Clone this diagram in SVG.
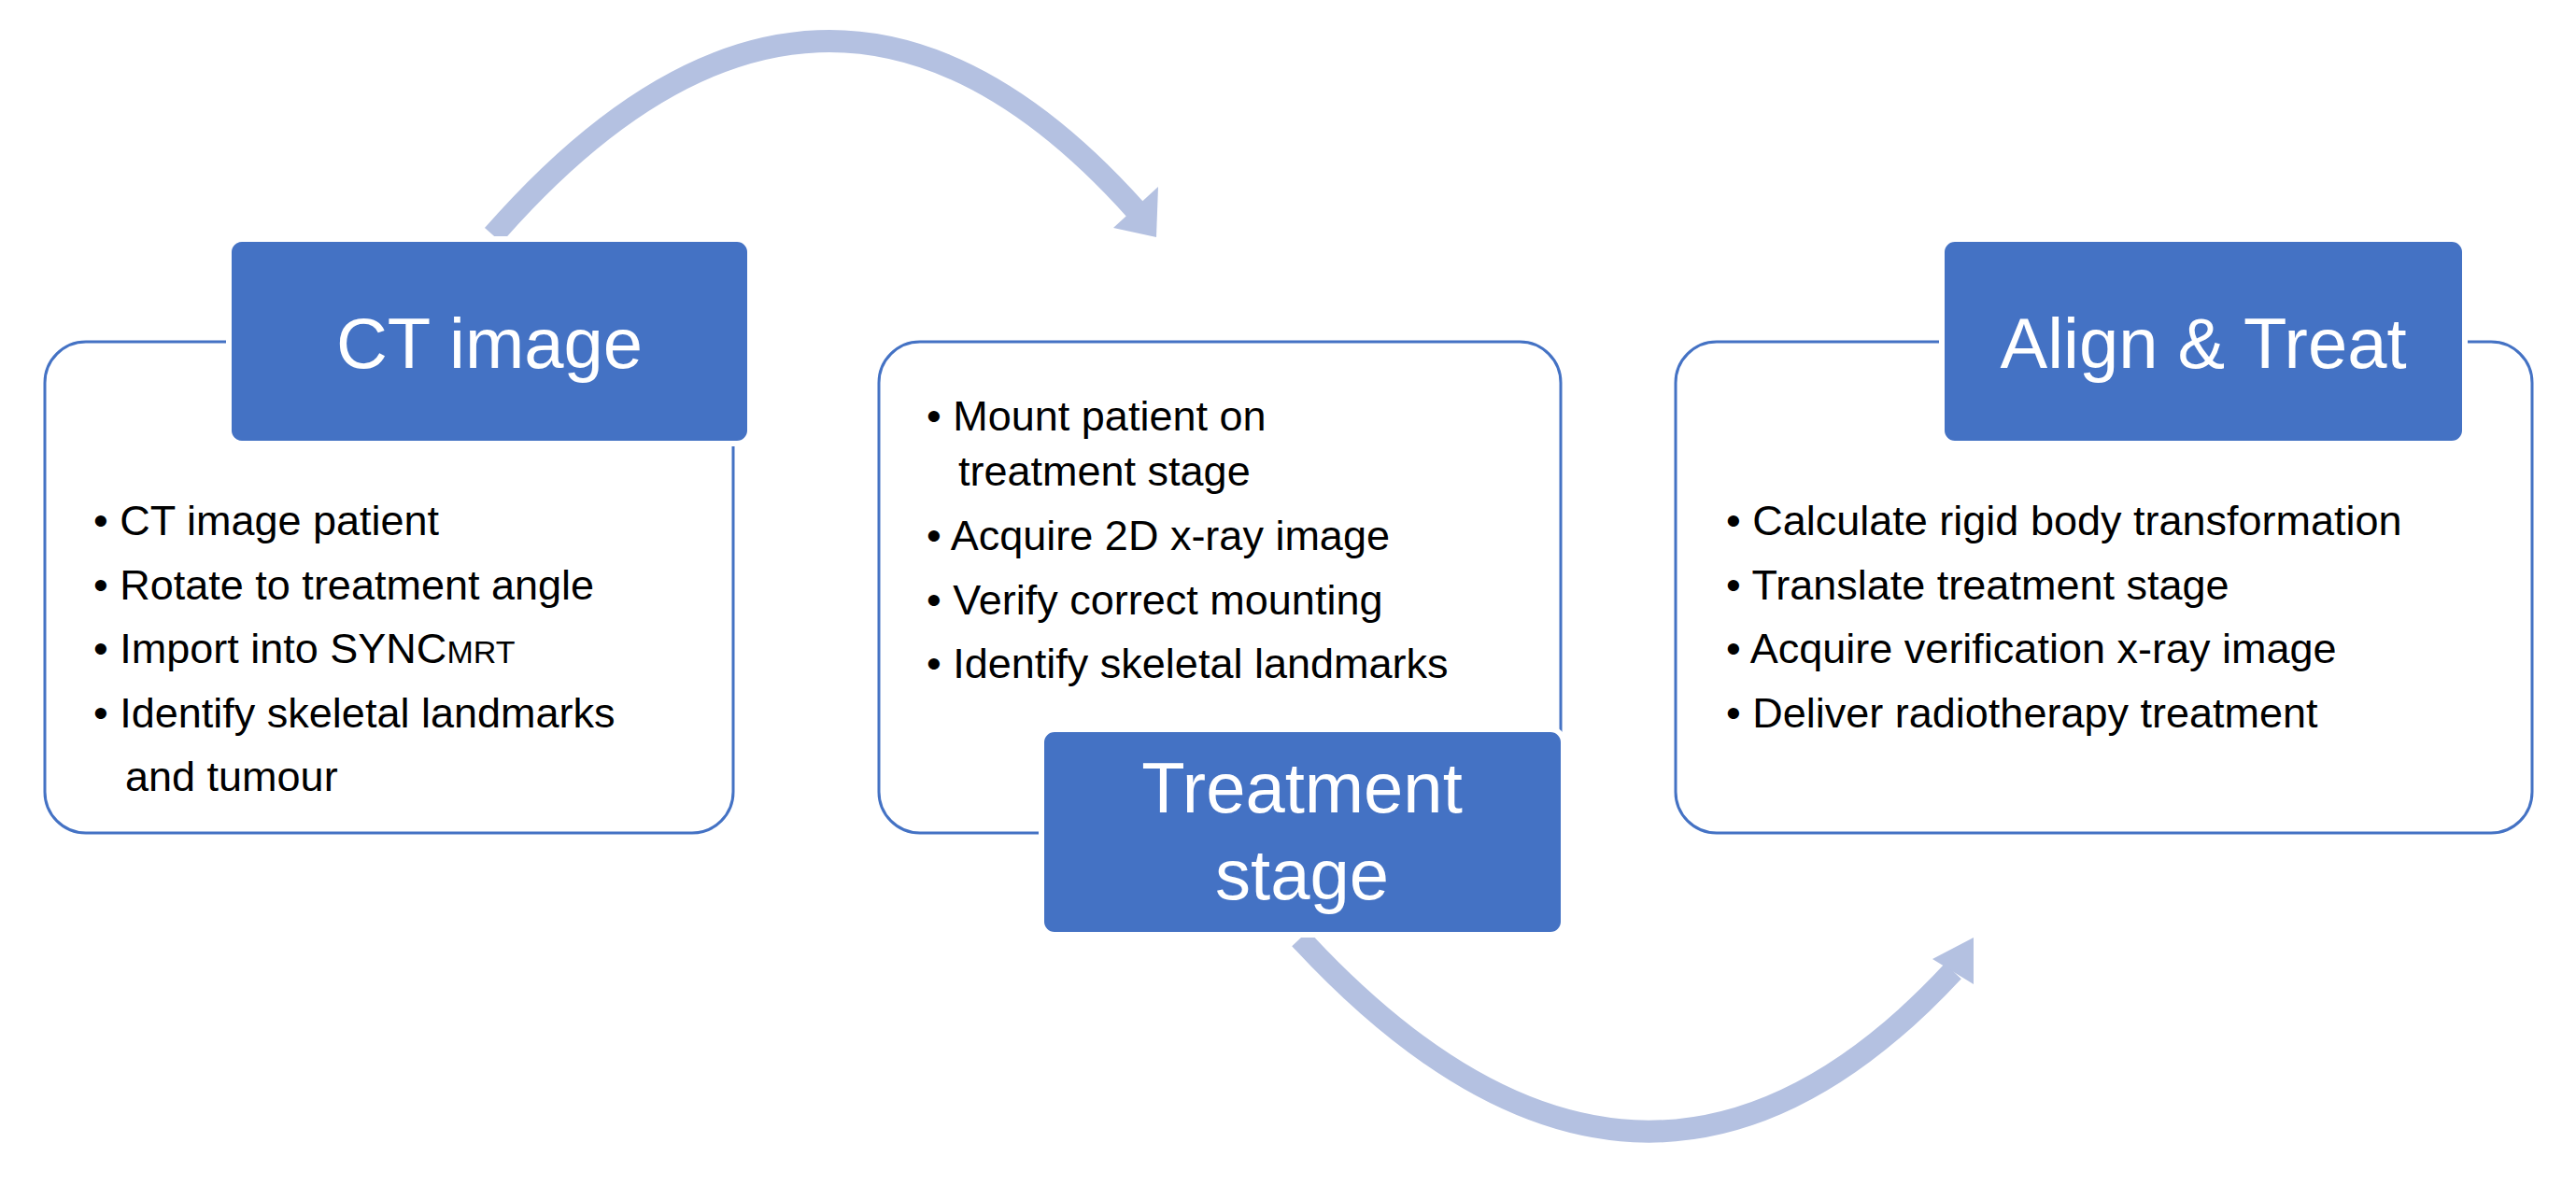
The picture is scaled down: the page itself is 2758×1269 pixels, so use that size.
<svg xmlns="http://www.w3.org/2000/svg" width="2758" height="1269" viewBox="0 0 2758 1269">
<style>
.box{fill:#fff;stroke:#4472C4;stroke-width:3}
.hdr{fill:#4472C4;stroke:#fff;stroke-width:6}
.title{font-family:"Liberation Sans",Arial,sans-serif;font-size:76px;fill:#fff;text-anchor:middle}
.txt{font-family:"Liberation Sans",Arial,sans-serif;font-size:45px;fill:#000}
.arc{fill:none;stroke:#B4C1E1;stroke-width:24}
.head{fill:#B4C1E1}
</style>
<rect width="2758" height="1269" fill="#fff"/>
<g id="connectors">
<path class="arc" d="M528,252 Q880,-150 1216,225"/>
<polygon class="head" points="1240,200 1192,244 1238,254"/>
<path class="arc" d="M1392,1005 Q1757,1400 2091,1040"/>
<polygon class="head" points="2069,1027 2113,1054 2113,1004"/>
</g>
<g id="ct-image">
<rect class="box" x="48" y="366" width="737" height="526" rx="44"/>
<rect class="hdr" x="245" y="256" width="558" height="219" rx="14"/>
<text class="title" x="524" y="394">CT image</text>
<text class="txt" x="100" y="573">• CT image patient</text>
<text class="txt" x="100" y="642">• Rotate to treatment angle</text>
<text class="txt" x="100" y="710">• Import into SYNC<tspan font-size="34">MRT</tspan></text>
<text class="txt" x="100" y="779">• Identify skeletal landmarks</text>
<text class="txt" x="134" y="847">and tumour</text>
</g>
<g id="treatment-stage">
<rect class="box" x="941" y="366" width="730" height="526" rx="44"/>
<text class="txt" x="992" y="461">• Mount patient on</text>
<text class="txt" x="1026" y="520">treatment stage</text>
<text class="txt" x="992" y="589">• Acquire 2D x-ray image</text>
<text class="txt" x="992" y="658">• Verify correct mounting</text>
<text class="txt" x="992" y="726">• Identify skeletal landmarks</text>
<rect class="hdr" x="1115" y="781" width="559" height="220" rx="14"/>
<text class="title" x="1394" y="870">Treatment</text>
<text class="title" x="1394" y="963">stage</text>
</g>
<g id="align-treat">
<rect class="box" x="1794" y="366" width="917" height="526" rx="44"/>
<rect class="hdr" x="2079" y="256" width="560" height="219" rx="14"/>
<text class="title" x="2359" y="394">Align &amp; Treat</text>
<text class="txt" x="1848" y="573">• Calculate rigid body transformation</text>
<text class="txt" x="1848" y="642">• Translate treatment stage</text>
<text class="txt" x="1848" y="710">• Acquire verification x-ray image</text>
<text class="txt" x="1848" y="779">• Deliver radiotherapy treatment</text>
</g>
</svg>
